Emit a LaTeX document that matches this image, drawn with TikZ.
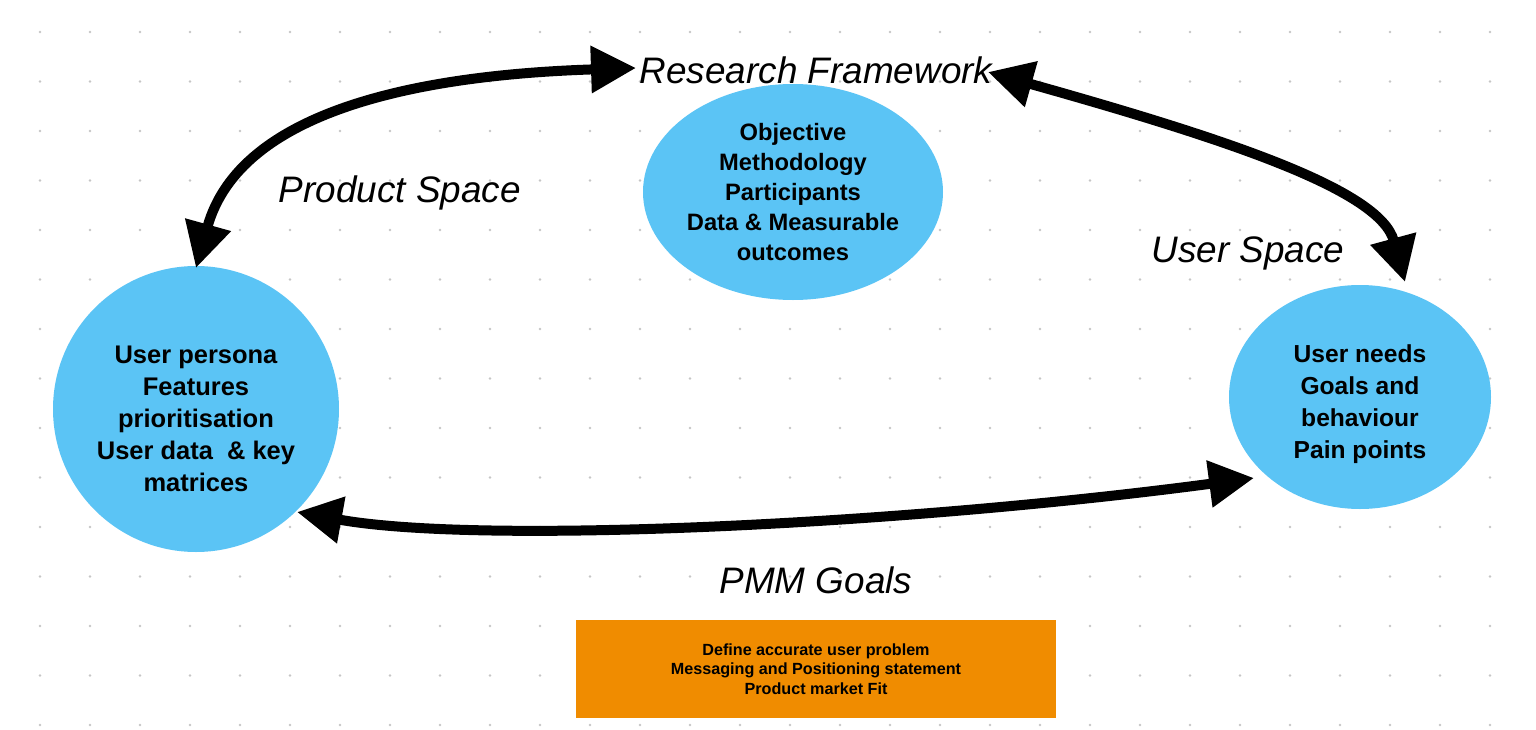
\documentclass[tikz,border=0pt]{standalone}
\usepackage{fontspec}
\setmainfont{Liberation Sans}
\usetikzlibrary{arrows.meta}
\definecolor{bub}{HTML}{5BC4F5}
\definecolor{org}{HTML}{F08C00}
\tikzset{
  bubble/.style={fill=bub,draw=none,ellipse,align=center,font=\bfseries},
  lbl/.style={font=\itshape\fontsize{21}{25}\selectfont},
  bigarrow/.style={line width=0.2cm,{Triangle[length=0.9cm,width=0.9cm]}-{Triangle[length=0.9cm,width=0.9cm]}}
}
\begin{document}
\begin{tikzpicture}[x=0.02cm,y=-0.02cm]
\useasboundingbox (0,0) rectangle (1536,730);
\fill[white] (0,0) rectangle (1536,730);
\foreach \i in {0,...,29} \foreach \j in {0,...,14}
  \fill[gray!45] (40+50*\i,32+49.5*\j) circle (1.3);
\fill[bub] (793,192) ellipse [x radius=150, y radius=108];
\node[align=center,font=\bfseries\fontsize{13.5}{17}\selectfont] (top) at (793,192) {Objective\\Methodology\\Participants\\Data \& Measurable\\outcomes};
\fill[bub] (196,409) circle (143);
\node[align=center,font=\bfseries\fontsize{14.5}{18.2}\selectfont] (left) at (196,419) {User persona\\Features\\prioritisation\\User data\ \ \& key\\matrices};
\fill[bub] (1360,397) ellipse [x radius=131, y radius=112];
\node[align=center,font=\bfseries\fontsize{14}{18.2}\selectfont] (right) at (1360,404) {User needs\\Goals and\\behaviour\\Pain points};
\fill[org] (576,620) rectangle (1056,718);
\node[align=center,font=\bfseries\fontsize{9.2}{11}\selectfont] (box) at (816,669) {Define accurate user problem\\Messaging and Positioning statement\\Product market Fit};
\node[lbl] (rf) at (816,70) {Research Framework};
\node[lbl] (ps) at (400,193) {Product Space};
\node[lbl] (us) at (1248,253) {User Space};
\node[lbl] (pmm) at (816,580) {PMM Goals};
\coordinate (a1) at (196,268); \coordinate (a2) at (636,68);
\coordinate (b1) at (988,72); \coordinate (b2) at (1405,282);
\coordinate (c1) at (297,512); \coordinate (c2) at (1254,478);
\draw[bigarrow] (a1) .. controls (240,110) and (420,75) .. (a2);
\draw[bigarrow] (b1) .. controls (1230,140) and (1380,190) .. (b2);
\draw[bigarrow] (c1) .. controls (480,545) and (900,525) .. (c2);
\end{tikzpicture}
\end{document}
